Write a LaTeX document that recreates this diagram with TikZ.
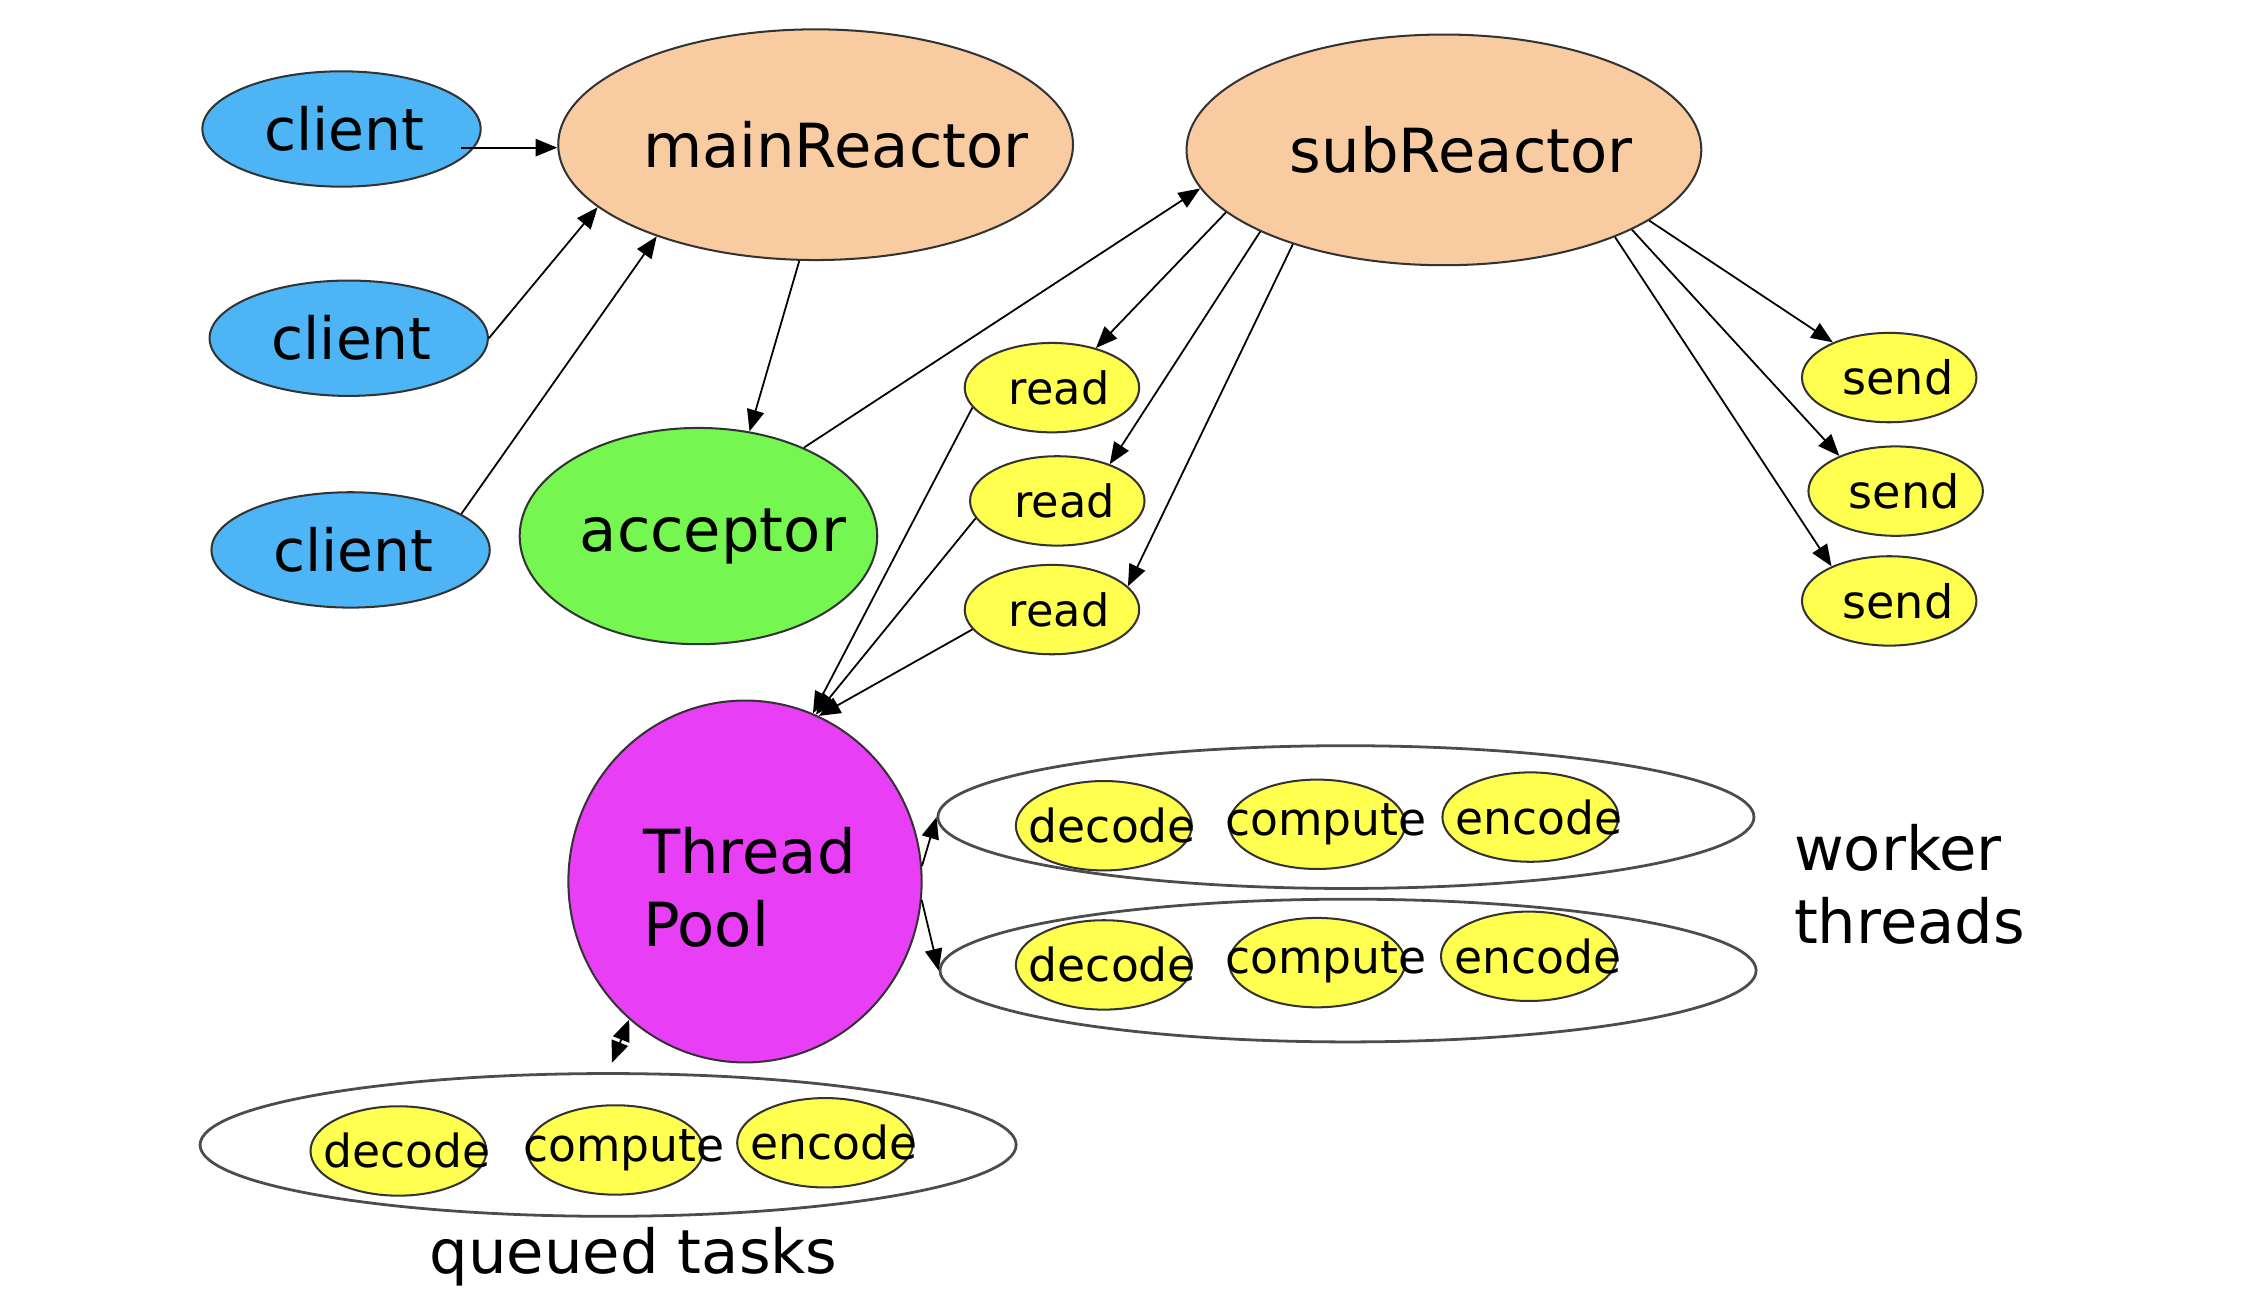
\documentclass[tikz,border=0pt]{standalone}
\usepackage{fontspec}
\setmainfont{DejaVu Sans}
\usetikzlibrary{positioning,shapes.geometric,arrows.meta}

\definecolor{clientblue}{RGB}{77,180,245}
\definecolor{reactorpeach}{RGB}{248,204,160}
\definecolor{acceptgreen}{RGB}{118,246,80}
\definecolor{ioyellow}{RGB}{255,255,80}
\definecolor{poolpink}{RGB}{232,62,245}

\newcommand{\fbig}{\fontsize{12}{14.5}\selectfont}
\newcommand{\fclient}{\fontsize{11.5}{14}\selectfont}
\newcommand{\fmid}{\fontsize{12}{14.5}\selectfont}
\newcommand{\fread}{\fontsize{8.8}{10.5}\selectfont}
\newcommand{\fsend}{\fontsize{9.1}{11}\selectfont}
\newcommand{\ftask}{\fontsize{9}{11}\selectfont}
% text with no width, moved right by half of #1
\newcommand{\shifted}[2]{\makebox[0pt]{\hspace*{#1}#2}}
% left aligned lines, first baseline at the node point
\newcommand{\textlines}[3]{\makebox[0pt][l]{\hspace*{#1}\raisebox{#2}[0pt][0pt]{\begin{tabular}[t]{@{}l@{}}#3\end{tabular}}}}

\begin{document}
\begin{tikzpicture}[
	x=0.01cm, y=-0.01cm,
	blob/.style={                 % filled ellipse
		ellipse, draw=black!80,
		line width=0.4pt, inner sep=0pt
	},
	client/.style={blob, fill=clientblue, minimum width=1.93cm, minimum height=0.8cm, font=\fclient},
	reactor/.style={blob, fill=reactorpeach, minimum width=3.57cm, minimum height=1.6cm, font=\fbig},
	acceptor/.style={blob, fill=acceptgreen, minimum width=2.48cm, minimum height=1.5cm, font=\fbig},
	io/.style={blob, fill=ioyellow, minimum width=1.21cm, minimum height=0.62cm},
	task/.style={blob, fill=ioyellow, minimum width=1.22cm, minimum height=0.62cm, font=\ftask},
	pool/.style={blob, fill=poolpink, minimum width=2.45cm, minimum height=2.51cm, font=\fmid},
	group/.style={                % white ring round the tasks
		ellipse, draw=black!70, line width=0.55pt,
		minimum width=5.66cm, minimum height=0.99cm
	},
	note/.style={inner sep=0pt, font=\fmid},
	link/.style={-{Triangle[length=1.5mm,width=1.2mm]}, line width=0.35pt},
	twoway/.style={{Triangle[length=1.5mm,width=1.2mm]}-{Triangle[length=1.5mm,width=1.2mm]}, line width=0.35pt}
	]
	\useasboundingbox (0,0) rectangle (1560,902);
	
	% --- clients ---
	\foreach \x/\y [count=\i] in {237/89.5, 242/234.7, 243.3/381.6} {
		\node[client] (c\i) at (\x,\y) {\shifted{0.04cm}{client}};
	}
	
	% --- reactors and acceptor ---
	\node[reactor] (main) at (566,100.4) {\shifted{0.28cm}{mainReactor}};
	\node[reactor] (sub) at (1002,104) {\shifted{0.24cm}{subReactor}};
	\node[acceptor] (acc) at (484.7,372) {\shifted{0.2cm}{acceptor}};
	
	% --- read / send ---
	\foreach \x/\y [count=\i] in {730/269, 733.7/347.6, 730/423} {
		\node[io, font=\fread] (r\i) at (\x,\y) {\shifted{0.1cm}{read}};
	}
	\foreach \x/\y [count=\i] in {1311/262, 1315.5/340.8, 1311/417} {
		\node[io, font=\fsend] (s\i) at (\x,\y) {\shifted{0.12cm}{send}};
	}
	
	% --- thread pool ---
	\node[pool] (pool) at (517,611.7) {\textlines{-0.706cm}{0.057cm}{Thread\\Pool}};
	
	% --- worker threads ---
	\node[group] (wk1) at (934,567) {};
	\foreach \t/\x/\y [count=\i] in {decode/766/573, compute/914/572, encode/1062/567} {
		\node[task] (wa-\i) at (\x,\y) {\shifted{0.12cm}{\t}};
	}
	\node[group] (wk2) at (935.5,673.5) {};
	\foreach \t/\x/\y [count=\i] in {decode/766/669.6, compute/914/668, encode/1061/663.6} {
		\node[task] (wb-\i) at (\x,\y) {\shifted{0.12cm}{\t}};
	}
	\node[note] (wtxt) at (1245,604) {\textlines{0cm}{0cm}{worker\\threads}};
	
	% --- queued tasks ---
	\node[group] (queue) at (422,794.5) {};
	\foreach \t/\x/\y [count=\i] in {decode/276.5/798.7, compute/427/798, encode/572.6/793} {
		\node[task] (q-\i) at (\x,\y) {\shifted{0.12cm}{\t}};
	}
	\node[note, anchor=base] (qtxt) at (439.7,884) {queued tasks};
	
	% --- arrows ---
	\coordinate (c1out) at ([xshift=-0.09cm]c1.-8);
	\draw[link] (c1out) -- (c1out -| main.west);
	\draw[link] (c2.east) -- (main.196);
	\draw[link] (c3.18) -- (main.210);
	\draw[link] (main.262) -- (acc.64);
	\draw[link] (acc.40) -- (sub.189);
	\foreach \a/\b [count=\i] in {196/42, 204/35, 212/17} {
		\draw[link] (sub.\a) -- (r\i.\b);
	}
	\foreach \a/\b [count=\i] in {194/68, 192/67, 194/66} {
		\draw[link] (r\i.\a) -- (pool.\b);
	}
	\foreach \a/\b [count=\i] in {-19/148, -23/148, -27/149} {
		\draw[link] (sub.\a) -- (s\i.\b);
	}
	\draw[link] (pool.5) -- (wk1.west);
	\draw[link] (pool.-6) -- (wk2.west);
	\draw[twoway, shorten >=0.07cm] (pool.230) -- (queue.north);
	
\end{tikzpicture}
\end{document}
